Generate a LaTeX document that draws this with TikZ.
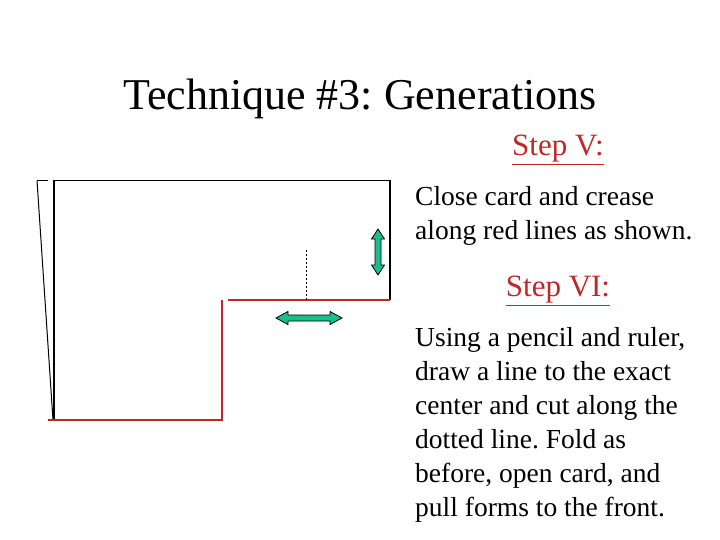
\documentclass[tikz,border=0pt]{standalone}
\usepackage{fontspec}
\setmainfont{Liberation Serif}
\frenchspacing
\definecolor{redline}{RGB}{192,40,40}
\definecolor{teal}{RGB}{26,190,140}
\begin{document}
\begin{tikzpicture}[x=1pt,y=-1pt,
  lbl/.style={inner sep=0pt,anchor=west,font=\fontsize{27.5}{34}\selectfont,align=left},
  steph/.style={inner sep=0pt,font=\fontsize{31}{34}\selectfont,text=redline},
  arr/.style={fill=teal,draw=black,line width=0.8pt,line join=miter}]
\useasboundingbox (0,0) rectangle (720,540);
\node[inner sep=0pt,font=\fontsize{44}{48}\selectfont] (title) at (360,99) {Technique \#3: Generations};
\node[steph] (s5) at (558,150) {\underline{Step V:}};
\node[lbl,anchor=north west] (t5) at (415,186) {Close card and crease\\along red lines as shown.};
\node[steph] (s6) at (558,291) {\underline{Step VI:}};
\node[lbl,anchor=north west] (t6) at (415,327) {Using a pencil and ruler,\\draw a line to the exact\\center and cut along the\\dotted line. Fold as\\before, open card, and\\pull forms to the front.};
% card
\draw[black,line width=1.2pt] (54,420) -- (54,180.5) -- (390,180.5) -- (390,300);
\draw[black,line width=1pt] (37,180.5) -- (48,180.5);
\draw[black,line width=1pt] (37,180.5) -- (53,420);
\draw[redline,line width=1.1pt] (228,300) -- (390,300);
\draw[redline,line width=1.1pt] (222,300) -- (222,420) -- (48,420);
\draw[black,dash pattern=on 2pt off 2pt,line width=0.8pt] (306,250) -- (306,300);
% arrows
\filldraw[arr] (378,229) -- (384.5,239) -- (381,239) -- (381,265) -- (384.5,265) -- (378,275) -- (371.5,265) -- (375,265) -- (375,239) -- (371.5,239) -- cycle;
\filldraw[arr] (276,318) -- (288,311.5) -- (288,315) -- (330,315) -- (330,311.5) -- (342,318) -- (330,324.5) -- (330,321) -- (288,321) -- (288,324.5) -- cycle;
\end{tikzpicture}
\end{document}
